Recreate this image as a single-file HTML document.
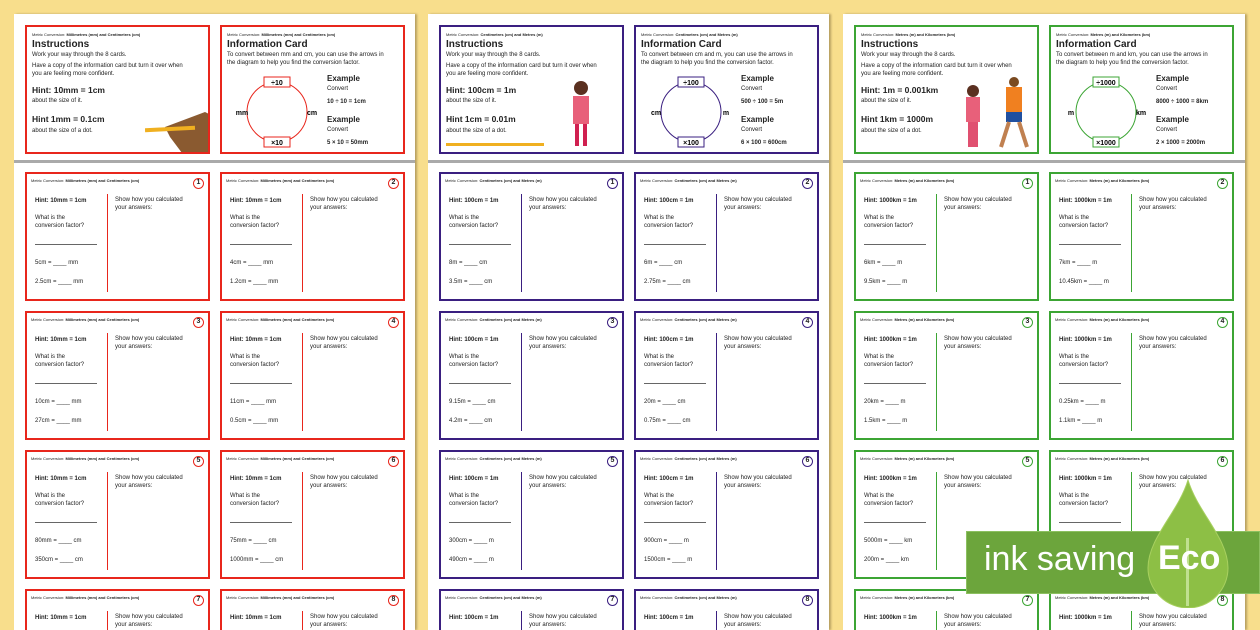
<!DOCTYPE html>
<html><head><meta charset="utf-8"><style>
*{margin:0;padding:0;box-sizing:border-box}
html,body{width:1260px;height:630px;overflow:hidden}
body{background:#f8de8c;font-family:"Liberation Sans",sans-serif}
#w{position:relative;width:1260px;height:630px;overflow:hidden}
.sheet{position:absolute;top:14px;height:616px;background:#fff;box-shadow:2px 0 2px #b8a060}
.sep{position:absolute;left:0;right:0;top:146px;height:3px;background:#aaa}
.card{position:absolute;width:185px;height:129px;border:2px solid;background:#fff;color:#222;overflow:hidden}
.t{position:absolute;font-size:4px;white-space:nowrap}
.s{position:absolute;font-size:6px;line-height:8px;white-space:nowrap}
.b{font-weight:bold}
.h{position:absolute;font-size:10px;font-weight:bold}
.num{position:absolute;right:4px;top:4px;width:11px;height:11px;border:1.5px solid;border-radius:50%;font-size:7px;font-weight:bold;text-align:center;line-height:8px}
.vl{position:absolute;left:80px;top:20px;width:1px;height:98px}
.ul{position:absolute;left:8px;top:70px;width:62px;height:1px;background:#666}
</style></head><body>
<div id="w">
<div id="r"></div>
<div style="position:absolute;left:966px;top:531px;width:294px;height:63px;background:#6ca53c;border:1px solid #8cc060"></div>
<div style="position:absolute;left:1146px;top:478px;width:84px;height:130px">
<svg width="84" height="130"><path d="M42 2 C52 35 82 60 82 90 A40 40 0 0 1 2 90 C2 60 32 35 42 2Z" fill="#8dbf45" stroke="#a8d060"/><rect x="40" y="60" width="3" height="68" fill="#c0e090"/></svg></div>
<div style="position:absolute;left:984px;top:540px;font-size:34px;color:#fff">ink saving</div>
<div style="position:absolute;left:1158px;top:539px;font-size:34px;font-weight:bold;color:#fff">Eco</div>
</div>
<script>
const S=[{x:14,w:401,c:'#e8261c',u:['mm','cm'],f:'10',t:'Millimetres (mm) and Centimetres (cm)',hint:'Hint: 10mm = 1cm',q:[['5cm','mm','2.5cm','mm'],['4cm','mm','1.2cm','mm'],['10cm','mm','27cm','mm'],['11cm','mm','0.5cm','mm'],['80mm','cm','350cm','cm'],['75mm','cm','1000mm','cm']],h1:'Hint: 10mm = 1cm',h2:'Hint 1mm = 0.1cm',e1:'10 ÷ 10 = 1cm',e2:'5 × 10 = 50mm',
 img:'<svg style="position:absolute;left:118px;top:70px" width="70" height="60"><path d="M20 30 L60 15 L70 20 L70 60 L40 60 L25 40Z" fill="#8a5a30"/><rect x="0" y="30" width="50" height="4" fill="#f0b020" transform="rotate(-3 25 32)"/></svg>'},
{x:428,w:401,c:'#3a1f80',u:['cm','m'],f:'100',t:'Centimetres (cm) and Metres (m)',hint:'Hint: 100cm = 1m',q:[['8m','cm','3.5m','cm'],['6m','cm','2.75m','cm'],['9.15m','cm','4.2m','cm'],['20m','cm','0.75m','cm'],['300cm','m','490cm','m'],['900cm','m','1500cm','m']],h1:'Hint: 100cm = 1m',h2:'Hint 1cm = 0.01m',e1:'500 ÷ 100 = 5m',e2:'6 × 100 = 600cm',
 img:'<svg style="position:absolute;left:125px;top:52px" width="30" height="75"><circle cx="15" cy="9" r="7" fill="#5a3020"/><rect x="7" y="17" width="16" height="28" fill="#e8607a"/><rect x="9" y="45" width="4" height="22" fill="#d02050"/><rect x="17" y="45" width="4" height="22" fill="#d02050"/></svg><div style="position:absolute;left:5px;top:116px;width:98px;height:3px;background:#f0b020"></div>'},
{x:843,w:402,c:'#3ca534',u:['m','km'],f:'1000',t:'Metres (m) and Kilometres (km)',hint:'Hint: 1000km = 1m',q:[['6km','m','9.5km','m'],['7km','m','10.45km','m'],['20km','m','1.5km','m'],['0.25km','m','1.1km','m'],['5000m','km','200m','km'],['','','','']],h1:'Hint: 1m = 0.001km',h2:'Hint 1km = 1000m',e1:'8000 ÷ 1000 = 8km',e2:'2 × 1000 = 2000m',
 img:'<svg style="position:absolute;left:105px;top:50px" width="80" height="78"><rect x="5" y="20" width="14" height="25" fill="#e8607a"/><circle cx="12" cy="14" r="6" fill="#5a3020"/><rect x="7" y="45" width="10" height="25" fill="#e05070"/><rect x="45" y="10" width="16" height="25" fill="#f08020"/><circle cx="53" cy="5" r="5" fill="#7a4a20"/><rect x="45" y="35" width="16" height="10" fill="#2050a0"/><path d="M48 45 L40 70 M58 45 L66 70" stroke="#c08050" stroke-width="4"/></svg>'}];
let h='';
S.forEach(s=>{
 h+=`<div class="sheet" style="left:${s.x}px;width:${s.w}px"><div class="sep"></div></div>`;
 const cx=[s.x+11,s.x+206];
 h+=`<div class="card" style="left:${cx[0]}px;top:25px;border-color:${s.c}">${s.img}<div class="t" style="left:5px;top:5px">Metric Conversion: <b>${s.t}</b></div><div class="h" style="left:5px;top:12px">Instructions</div><div class="s" style="left:5px;top:24px">Work your way through the 8 cards.</div><div class="s" style="left:5px;top:35px">Have a copy of the information card but turn it over when<br>you are feeling more confident.</div><div class="s b" style="left:5px;top:59px;font-size:8.5px">${s.h1}</div><div class="s" style="left:5px;top:70px">about the size of it.</div><div class="s b" style="left:5px;top:88px;font-size:8.5px">${s.h2}</div><div class="s" style="left:5px;top:100px">about the size of a dot.</div></div>`;
 h+=`<div class="card" style="left:${cx[1]}px;top:25px;border-color:${s.c}"><div class="t" style="left:5px;top:5px">Metric Conversion: <b>${s.t}</b></div><div class="h" style="left:5px;top:12px">Information Card</div><div class="s" style="left:5px;top:24px">To convert between ${s.u[0]} and ${s.u[1]}, you can use the arrows in<br>the diagram to help you find the conversion factor.</div>
 <svg style="position:absolute;left:10px;top:45px" width="90" height="80"><circle cx="45" cy="40" r="30" fill="none" stroke="${s.c}" stroke-width="1"/><rect x="32" y="5" width="26" height="10" fill="#fff" stroke="${s.c}"/><rect x="32" y="65" width="26" height="10" fill="#fff" stroke="${s.c}"/><text x="45" y="13" font-size="7" font-weight="bold" text-anchor="middle">÷${s.f}</text><text x="45" y="73" font-size="7" font-weight="bold" text-anchor="middle">×${s.f}</text><text x="10" y="43" font-size="7" font-weight="bold" text-anchor="middle">${s.u[0]}</text><text x="80" y="43" font-size="7" font-weight="bold" text-anchor="middle">${s.u[1]}</text></svg>
 <div class="s b" style="left:105px;top:48px;font-size:8px">Example</div><div class="s" style="left:105px;top:58px">Convert</div><div class="s b" style="left:105px;top:71px">${s.e1}</div><div class="s b" style="left:105px;top:89px;font-size:8px">Example</div><div class="s" style="left:105px;top:99px">Convert</div><div class="s b" style="left:105px;top:112px">${s.e2}</div></div>`;
 for(let r=0;r<4;r++)for(let c=0;c<2;c++){
  const n=r*2+c+1,q=s.q[n-1]||['','','',''];
  const top=172+r*139, last=r==3, hh=last?630-top:129;
  h+=`<div class="card" style="left:${cx[c]}px;top:${top}px;height:${hh}px;border-color:${s.c};${last?'border-bottom:none':''}"><div class="t" style="left:4px;top:4px">Metric Conversion: <b>${s.t}</b></div><div class="num" style="border-color:${s.c}">${n}</div><div class="vl" style="background:${s.c};${last?'height:'+(hh-20)+'px':''}"></div><div class="s b" style="left:8px;top:23px">${s.hint}</div>${last?`<div class="s" style="left:88px;top:22px">Show how you calculated<br>your answers:</div>`:`<div class="s" style="left:8px;top:40px">What is the<br>conversion factor?</div><div class="ul"></div><div class="s" style="left:8px;top:85px">${q[0]} = ____ ${q[1]}</div><div class="s" style="left:8px;top:104px">${q[2]} = ____ ${q[3]}</div><div class="s" style="left:88px;top:22px">Show how you calculated<br>your answers:</div>`}</div>`;
 }
});
document.getElementById('r').innerHTML=h;
</script>
</body></html>
